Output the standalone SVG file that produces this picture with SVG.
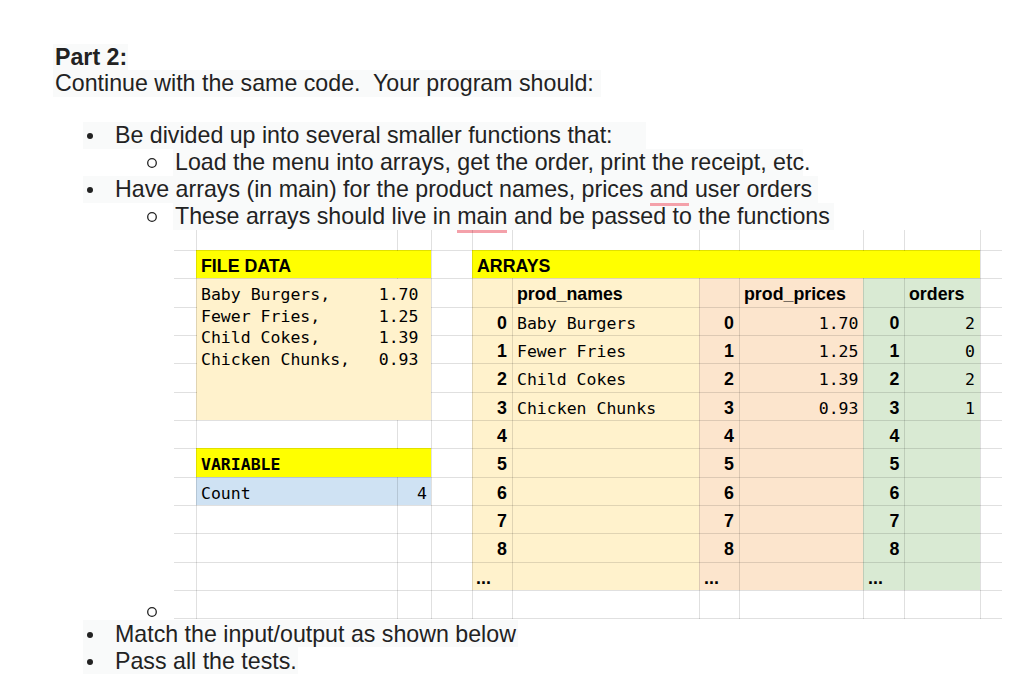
<svg xmlns="http://www.w3.org/2000/svg" width="1012" height="695" viewBox="0 0 1012 695">
<style>
.t{font-family:"Liberation Sans",Arial,sans-serif;font-size:23.2px;fill:#222}
.tb{font-family:"Liberation Sans",Arial,sans-serif;font-size:23.2px;font-weight:bold;fill:#222}
.bg{fill:#f9fafa}
.h{font-family:"Liberation Sans",Arial,sans-serif;font-size:17.8px;font-weight:bold;fill:#000}
.m{font-family:"DejaVu Sans Mono","Liberation Mono",monospace;font-size:16.5px;fill:#000}
.mb{font-family:"DejaVu Sans Mono","Liberation Mono",monospace;font-size:16.5px;font-weight:bold;fill:#000}
.e{text-anchor:end}
.g line{stroke:#000;stroke-opacity:0.12;stroke-width:1}
.sq{fill:#f4a1aa}
.dot{fill:#222}
.ring{fill:none;stroke:#222;stroke-width:1.3}
</style>
<rect width="1012" height="695" fill="#fff"/>

<g id="text-backgrounds">
<rect class="bg" x="53" y="44" width="75" height="27"/>
<rect class="bg" x="53" y="70" width="548" height="27"/>
<rect class="bg" x="83" y="122" width="563" height="27"/>
<rect class="bg" x="173" y="149" width="630" height="27"/>
<rect class="bg" x="83" y="176" width="735" height="27"/>
<rect class="bg" x="173" y="203" width="661" height="27"/>
<rect class="bg" x="83" y="620" width="435" height="27"/>
<rect class="bg" x="83" y="647" width="215" height="27"/>
</g>

<g id="intro">
<text class="tb" x="55" y="65">Part 2:</text>
<text class="t" x="55" y="91" xml:space="preserve">Continue with the same code.  Your program should:</text>
<circle class="dot" cx="90" cy="136" r="3"/>
<text class="t" x="115" y="143">Be divided up into several smaller functions that:</text>
<circle class="ring" cx="152" cy="163" r="4.3"/>
<text class="t" x="175" y="170">Load the menu into arrays, get the order, print the receipt, etc.</text>
<circle class="dot" cx="90" cy="190" r="3"/>
<text class="t" x="115" y="197">Have arrays (in main) for the product names, prices and user orders</text>
<rect class="sq" x="650" y="203" width="39" height="3"/>
<circle class="ring" cx="152" cy="217" r="4.3"/>
<text class="t" x="175" y="224">These arrays should live in main and be passed to the functions</text>
<rect class="sq" x="457" y="230" width="50" height="3"/>
</g>

<g id="fills">
<rect x="196" y="250" width="235" height="28" fill="#ffff00"/>
<rect x="196" y="278" width="235" height="142" fill="#fff2cc"/>
<rect x="196" y="448" width="235" height="29" fill="#ffff00"/>
<rect x="196" y="477" width="235" height="28" fill="#cfe2f3"/>
<rect x="472" y="250" width="508" height="28" fill="#ffff00"/>
<rect x="472" y="278" width="227" height="312" fill="#fff2cc"/>
<rect x="699" y="278" width="164" height="312" fill="#fce5cd"/>
<rect x="863" y="278" width="117" height="312" fill="#d9ead3"/>
</g>

<g id="grid" class="g">
<line x1="174" y1="250.5" x2="1002" y2="250.5"/>
<line x1="174" y1="278.5" x2="1002" y2="278.5"/>
<line x1="174" y1="307.5" x2="1002" y2="307.5"/>
<line x1="174" y1="335.5" x2="1002" y2="335.5"/>
<line x1="174" y1="363.5" x2="1002" y2="363.5"/>
<line x1="174" y1="392.5" x2="1002" y2="392.5"/>
<line x1="174" y1="420.5" x2="1002" y2="420.5"/>
<line x1="174" y1="448.5" x2="1002" y2="448.5"/>
<line x1="174" y1="477.5" x2="1002" y2="477.5"/>
<line x1="174" y1="505.5" x2="1002" y2="505.5"/>
<line x1="174" y1="533.5" x2="1002" y2="533.5"/>
<line x1="174" y1="562.5" x2="1002" y2="562.5"/>
<line x1="174" y1="590.5" x2="1002" y2="590.5"/>
<line x1="174" y1="618.5" x2="1002" y2="618.5"/>
<line x1="196.5" y1="230" x2="196.5" y2="619"/>
<line x1="397.5" y1="230" x2="397.5" y2="619"/>
<line x1="431.5" y1="230" x2="431.5" y2="619"/>
<line x1="472.5" y1="230" x2="472.5" y2="619"/>
<line x1="512.5" y1="230" x2="512.5" y2="619"/>
<line x1="699.5" y1="230" x2="699.5" y2="619"/>
<line x1="739.5" y1="230" x2="739.5" y2="619"/>
<line x1="863.5" y1="230" x2="863.5" y2="619"/>
<line x1="904.5" y1="230" x2="904.5" y2="619"/>
<line x1="980.5" y1="230" x2="980.5" y2="619"/>
</g>

<g id="merged-cells">
<rect x="197" y="251" width="234" height="27" fill="#ffff00"/>
<rect x="197" y="279" width="234" height="141" fill="#fff2cc"/>
<rect x="197" y="449" width="234" height="28" fill="#ffff00"/>
<rect x="473" y="251" width="507" height="27" fill="#ffff00"/>
</g>

<g id="file-data">
<text class="h" x="201" y="272">FILE DATA</text>
<text class="m" x="201" y="300">Baby Burgers,</text>
<text class="m" x="201" y="321.5">Fewer Fries,</text>
<text class="m" x="201" y="343">Child Cokes,</text>
<text class="m" x="201" y="364.5">Chicken Chunks,</text>
<text class="m e" x="418.5" y="300">1.70</text>
<text class="m e" x="418.5" y="321.5">1.25</text>
<text class="m e" x="418.5" y="343">1.39</text>
<text class="m e" x="418.5" y="364.5">0.93</text>
</g>

<g id="variable">
<text class="mb" x="201" y="470">VARIABLE</text>
<text class="m" x="201" y="498.5">Count</text>
<text class="m e" x="427" y="498.5">4</text>
</g>

<g id="arrays">
<text class="h" x="477" y="272">ARRAYS</text>
<text class="h" x="517" y="300">prod_names</text>
<text class="h" x="744" y="300">prod_prices</text>
<text class="h" x="909" y="300">orders</text>
</g>

<g id="prod-names">
<text class="h e" x="507" y="328.5">0</text>
<text class="h e" x="507" y="357">1</text>
<text class="h e" x="507" y="385">2</text>
<text class="h e" x="507" y="413.5">3</text>
<text class="h e" x="507" y="442">4</text>
<text class="h e" x="507" y="470">5</text>
<text class="h e" x="507" y="498.5">6</text>
<text class="h e" x="507" y="527">7</text>
<text class="h e" x="507" y="555">8</text>
<text class="h" x="476" y="583.5">...</text>
<text class="m" x="517" y="328.5">Baby Burgers</text>
<text class="m" x="517" y="357">Fewer Fries</text>
<text class="m" x="517" y="385">Child Cokes</text>
<text class="m" x="517" y="413.5">Chicken Chunks</text>
</g>

<g id="prod-prices">
<text class="h e" x="734" y="328.5">0</text>
<text class="h e" x="734" y="357">1</text>
<text class="h e" x="734" y="385">2</text>
<text class="h e" x="734" y="413.5">3</text>
<text class="h e" x="734" y="442">4</text>
<text class="h e" x="734" y="470">5</text>
<text class="h e" x="734" y="498.5">6</text>
<text class="h e" x="734" y="527">7</text>
<text class="h e" x="734" y="555">8</text>
<text class="h" x="704" y="583.5">...</text>
<text class="m e" x="858.5" y="328.5">1.70</text>
<text class="m e" x="858.5" y="357">1.25</text>
<text class="m e" x="858.5" y="385">1.39</text>
<text class="m e" x="858.5" y="413.5">0.93</text>
</g>

<g id="orders">
<text class="h e" x="899.5" y="328.5">0</text>
<text class="h e" x="899.5" y="357">1</text>
<text class="h e" x="899.5" y="385">2</text>
<text class="h e" x="899.5" y="413.5">3</text>
<text class="h e" x="899.5" y="442">4</text>
<text class="h e" x="899.5" y="470">5</text>
<text class="h e" x="899.5" y="498.5">6</text>
<text class="h e" x="899.5" y="527">7</text>
<text class="h e" x="899.5" y="555">8</text>
<text class="h" x="868" y="583.5">...</text>
<text class="m e" x="975" y="328.5">2</text>
<text class="m e" x="975" y="357">0</text>
<text class="m e" x="975" y="385">2</text>
<text class="m e" x="975" y="413.5">1</text>
</g>

<g id="connectors"/>

<g id="outro">
<circle class="ring" cx="152" cy="612" r="4.3"/>
<circle class="dot" cx="90" cy="635" r="3"/>
<text class="t" x="115" y="642">Match the input/output as shown below</text>
<circle class="dot" cx="90" cy="662" r="3"/>
<text class="t" x="115" y="669">Pass all the tests.</text>
</g>
</svg>
